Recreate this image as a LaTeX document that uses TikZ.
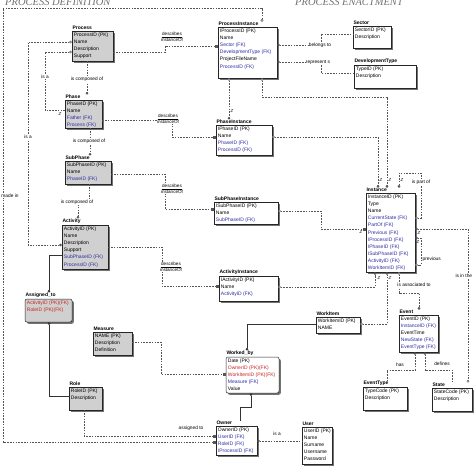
\documentclass[tikz,border=0pt]{standalone}
\usepackage{fontspec}
\setmainfont{Liberation Sans}
\newfontfamily\headfont{Liberation Serif}
\usetikzlibrary{arrows.meta,fit,shadows}
\definecolor{fkc}{RGB}{45,45,165}
\definecolor{pkc}{RGB}{200,35,35}
\definecolor{boxgrey}{RGB}{208,208,208}
\definecolor{linec}{RGB}{85,85,85}
\newcommand\fkx[1]{\textcolor{fkc}{#1}}
\newcommand\rdx[1]{\textcolor{pkc}{#1}}
\tikzset{
  ocirc/.tip={Circle[fill=white,length=2.6pt,width=2.6pt]},
  fdot/.tip={Circle[length=2.6pt,width=2.6pt]},
  fsq/.tip={Square[length=2.4pt,width=2.4pt]},
  ebox/.style={draw=black!85, line width=0.5pt, inner sep=0pt, fill=white,
    drop shadow={shadow xshift=1.8pt,shadow yshift=-1.8pt,fill=black!55,opacity=1}},
  greybox/.style={fill=boxgrey},
  whitebox/.style={fill=white},
  etitle/.style={anchor=south west, inner sep=0.6pt, font=\bfseries\fontsize{5}{5.2}\selectfont},
  efield/.style={anchor=north west, align=left, inner sep=0.5pt, font=\fontsize{5}{7.1}\selectfont},
  rel/.style={draw=linec, line width=0.45pt, dash pattern=on 1.6pt off 1.2pt},
  idrel/.style={draw=black!80, line width=0.55pt},
  lbl/.style={fill=white, inner sep=0.4pt, font=\fontsize{4.8}{5}\selectfont},
  dlbl/.style={fill=white, inner sep=0.4pt, align=center, font=\fontsize{4.6}{4.9}\selectfont},
  zmark/.style={inner sep=0pt, font=\itshape\fontsize{4.2}{4.2}\selectfont},
  headtext/.style={anchor=base west, inner sep=0pt, text=black!55, font=\headfont\itshape\fontsize{10.5}{11}\selectfont},
}
% name, x1, y1, x2, y2, style, title, fields
\newcommand\ent[8]{%
  \coordinate (#1a) at (#2,#3);
  \coordinate (#1b) at (#4,#5);
  \node[ebox,#6,fit=(#1a)(#1b)] (#1) {};
  \node[etitle] (#1t) at (#1.north west) {#7};
  \node[efield] (#1f) at ([xshift=1.5pt,yshift=-1.5pt]#1.north west) {#8};
}
\begin{document}
\begin{tikzpicture}[x=1pt,y=-1pt]
\useasboundingbox (0,0) rectangle (474,474);
\fill[white] (0,0) rectangle (474,474);
\clip (0,0) rectangle (474,474);

\node[headtext] (h1) at (5,5.5) {PROCESS DEFINITION};
\node[headtext] (h2) at (295,5.5) {PROCESS ENACTMENT};

% ---------------- entities ----------------
\ent{proc}{72}{31}{113}{61}{greybox}{Process}{ProcessID (PK)\\Name\\Description\\Support}
\ent{phase}{65}{100}{102}{128}{greybox}{Phase}{PhaseID (PK)\\Name\\\fkx{Father (FK)}\\\fkx{Process (FK)}}
\ent{subphase}{65}{161}{111}{184}{greybox}{SubPhase}{SubPhaseID (PK)\\Name\\\fkx{PhaseID (FK)}}
\ent{activity}{62}{225}{108}{269}{greybox}{Activity}{ActivityID (PK)\\Name\\Description\\Support\\\fkx{SubPhaseID (FK)}\\\fkx{ProcessID (FK)}}
\ent{assigned}{25}{299}{72}{322}{greybox,rounded corners=2pt}{Assigned\_to}{\rdx{ActivityID (PK)(FK)}\\\rdx{RoleID (PK)(FK)}}
\ent{measure}{93}{332}{132}{355}{greybox}{Measure}{NAME (PK)\\Description\\Definition}
\ent{role}{69}{387}{102}{410}{greybox}{Role}{RoleID (PK)\\Description}

\ent{pinst}{218}{27}{277}{78}{whitebox}{ProcessInstance}{IProcessID (PK)\\Name\\\fkx{Sector (FK)}\\\fkx{DevelopmentType (FK)}\\ProjectFileName\\\fkx{ProcessID (FK)}}
\ent{phinst}{216}{125}{272}{155}{whitebox}{PhaseInstance}{IPhaseID (PK)\\Name\\\fkx{PhaseID (FK)}\\\fkx{ProcessID (FK)}}
\ent{spinst}{214}{202}{278}{224}{whitebox}{SubPhaseInstance}{ISubPhaseID (PK)\\Name\\\fkx{SubPhaseID (FK)}}
\ent{ainst}{219}{276}{278}{301}{whitebox}{ActivityInstance}{IActivityID (PK)\\Name\\\fkx{ActivityID (FK)}}
\ent{sector}{353}{26}{391}{48}{whitebox}{Sector}{SectorID (PK)\\Description}
\ent{devtype}{354}{65}{416}{88}{whitebox}{DevelopmentType}{TypeID (PK)\\Description}
\ent{inst}{366}{193}{415}{272}{whitebox}{Instance}{InstanceID (PK)\\Type\\Name\\\fkx{CurrentState (FK)}\\\fkx{PartOf (FK)}\\\fkx{Previous (FK)}\\\fkx{IProcessID (FK)}\\\fkx{IPhaseID (FK)}\\\fkx{ISubPhaseID (FK)}\\\fkx{ActivityID (FK)}\\\fkx{WorkItemID (FK)}}
\ent{workitem}{316}{317}{360}{333}{whitebox}{WorkItem}{WorkItemID (PK)\\NAME}
\ent{event}{399}{315}{438}{352}{whitebox}{Event}{EventID (PK)\\\fkx{InstanceID (FK)}\\EventTime\\\fkx{NewState (FK)}\\\fkx{EventType (FK)}}
\ent{evtype}{363}{387}{407}{410}{whitebox}{EventType}{TypeCode (PK)\\Description}
\ent{state}{432}{388}{472}{411}{whitebox}{State}{StateCode (PK)\\Description}
\ent{workedby}{226}{357}{279}{393}{whitebox,rounded corners=2pt}{Worked\_by}{Date (PK)\\\rdx{OwnerID (PK)(FK)}\\\rdx{WorkItemID (PK)(FK)}\\\fkx{Measure (FK)}\\Value}
\ent{owner}{216}{426}{257}{455}{whitebox}{Owner}{OwnerID (PK)\\\fkx{UserID (FK)}\\\fkx{RoleID (FK)}\\\fkx{IProcessID (FK)}}
\ent{user}{302}{427}{332}{464}{whitebox}{User}{UserID (PK)\\Name\\Surname\\Username\\Password}

% ---------------- connectors ----------------
% Process -> ProcessInstance
\draw[rel,-fsq] (proc.east |- 0,52) -- (165,52) -- (165,46) -- (pinst.west |- 0,46);
\node[dlbl] (l1) at (172,37) {\underline{describes}\\instanceOf};
% ProcessInstance -> Sector / DevelopmentType
\draw[rel,fdot-] (pinst.east |- 0,45) -- (321,45) -- (321,34) -- (sector.west |- 0,34);
\node[lbl] (l2) at (320,45) {belongs to};
\draw[rel,fdot-] (pinst.east |- 0,62) -- (321,62) -- (321,73) -- (devtype.west |- 0,73);
\node[lbl] (l3) at (318,62) {represent s};
% Process -> Phase
\draw[rel,-fdot] (proc.south -| 87,0) -- (phaset.north -| 87,0);
\node[lbl] (l4) at (87,79) {is composed of};
% Process is a (Activity)
\draw[rel,ocirc-fdot] (proc.west |- 0,42) -- (28,42) -- (28,245) -- (activity.west |- 0,245);
\node[lbl] (l5) at (28,137) {is a};
% Process is a (Phase)
\draw[rel,ocirc-] (proc.west |- 0,52) -- (45,52) -- (45,110) -- (phase.west |- 0,110);
\node[lbl] (l6) at (45,77) {is a};
\node[zmark] (z1) at (60,114) {Z};
% Phase -> PhaseInstance
\draw[rel,-fsq] (phase.east |- 0,120) -- (172,120) -- (172,137) -- (phinst.west |- 0,137);
\node[dlbl] (l7) at (168,119) {\underline{describes}\\instanceOf};
% Phase -> SubPhase
\draw[rel,-fdot] (phase.south -| 90,0) -- (subphaset.north -| 90,0);
\node[lbl] (l8) at (89,141) {is composed of};
% SubPhase -> SubPhaseInstance
\draw[rel,-fsq] (subphase.east |- 0,174) -- (165,174) -- (165,209) -- (spinst.west |- 0,209);
\node[dlbl] (l9) at (172,189) {\underline{describes}\\instanceOf};
% SubPhase -> Activity
\draw[rel,-fdot] (subphase.south -| 89,0) -- (89,202) -- (78,202) -- (activityt.north -| 78,0);
\node[lbl] (l10) at (77,202) {is composed of};
% Activity -> ActivityInstance
\draw[rel,-fsq] (activity.east |- 0,247) -- (162,247) -- (162,286) -- (ainst.west |- 0,286);
\node[dlbl] (l11) at (171,267) {\underline{describes}\\instanceOf};
% Activity -> Assigned_to -> Role
\draw[idrel,-fdot] (activity.west |- 0,255) -- (49,255) -- (assignedt.north -| 49,0);
\draw[idrel,fdot-] (assigned.south -| 49,0) -- (49,396) -- (role.west |- 0,396);
% Measure -> Worked_by
\draw[rel,-fsq] (measure.east |- 0,342) -- (161,342) -- (161,374) -- (workedby.west |- 0,374);
% Role -> Owner
\draw[rel,-fsq] (role.south -| 84,0) -- (84,436) -- (owner.west |- 0,436);
\node[lbl] (l15) at (191,428) {assigned to};
% ProcessInstance -> Owner (made in)
\draw[rel,ocirc-fsq] (pinstt.north -| 262,0) -- (262,8) -- (3,8) -- (3,442) -- (owner.west |- 0,442);
\node[lbl] (l16) at (10,196) {made in};
% ProcessInstance -> PhaseInstance
\draw[rel,ocirc-fdot] (pinst.south -| 229,0) -- (phinstt.north -| 229,0);
\node[zmark] (z2) at (232,111) {Z};
% ProcessInstance -> Instance
\draw[rel,ocirc-fdot] (pinst.south -| 262,0) -- (262,97) -- (387,97) -- (instt.north -| 387,0);
% PhaseInstance -> Instance
\draw[rel,ocirc-fdot] (phinst.east |- 0,137) -- (378,137) -- (instt.north -| 378,0);
% Instance is part of
\draw[rel,fdot-ocirc] (instt.north -| 399,0) -- (399,173) -- (421,173) -- (421,218) -- (inst.east |- 0,218);
\node[lbl] (l20) at (421,182) {is part of};
% SubPhaseInstance -> Instance
\draw[rel,ocirc-fsq] (spinst.east |- 0,211) -- (321,211) -- (321,229) -- (inst.west |- 0,229);
% previous
\draw[rel,fdot-ocirc] (inst.east |- 0,238) -- (421,238) -- (421,265) -- (inst.east |- 0,265);
\node[lbl,anchor=west] (l22) at (422,259) {previous};
% is in the (State)
\draw[rel,fdot-ocirc] (inst.east |- 0,229) -- (468,229) -- (468,380) -- (statet.north -| 468,0);
\node[lbl,anchor=west] (l23) at (455,276) {is in the};
% ActivityInstance -> Instance
\draw[rel,ocirc-fdot] (ainst.east |- 0,287) -- (375,287) -- (inst.south -| 375,0);
% WorkItem -> Instance
\draw[rel,ocirc-fdot] (workitem.east |- 0,324) -- (387,324) -- (inst.south -| 387,0);
% Instance -> Event
\draw[rel,ocirc-fdot] (inst.south -| 399,0) -- (399,293) -- (419,293) -- (eventt.north -| 419,0);
\node[lbl] (l26) at (414,285) {is associated to};
% Event -> EventType / State
\draw[rel,fdot-] (event.south -| 415,0) -- (415,370) -- (387,370) -- (evtypet.north -| 387,0);
\node[lbl] (l27) at (400,365) {has};
\draw[rel,fdot-] (event.south -| 425,0) -- (425,370) -- (452,370) -- (statet.north -| 452,0);
\node[lbl] (l28) at (442,364) {defines};
% Worked_by -> WorkItem / Owner
\draw[idrel,fdot-] (workedbyt.north -| 247,0) -- (247,324) -- (workitem.west |- 0,324);
\draw[idrel,fdot-] (workedby.south -| 251,0) -- (251,407) -- (240,407) -- (ownert.north -| 240,0);
% Owner -> User
\draw[rel,fdot-] (owner.east |- 0,441) -- (user.west |- 0,441);
\node[lbl] (l31) at (277,434) {is a};

% Z markers
\node[zmark] (z3) at (381,180) {Z};
\node[zmark] (z4) at (390,180) {Z};
\node[zmark] (z5) at (402,180) {Z};
\node[zmark] (z6) at (361,232) {Z};
\node[zmark] (z7) at (419,233) {Z};
\node[zmark] (z8) at (418,242) {Z};
\node[zmark] (z9) at (379,278) {Z};
\node[zmark] (z10) at (390,278) {Z};
\end{tikzpicture}
\end{document}
